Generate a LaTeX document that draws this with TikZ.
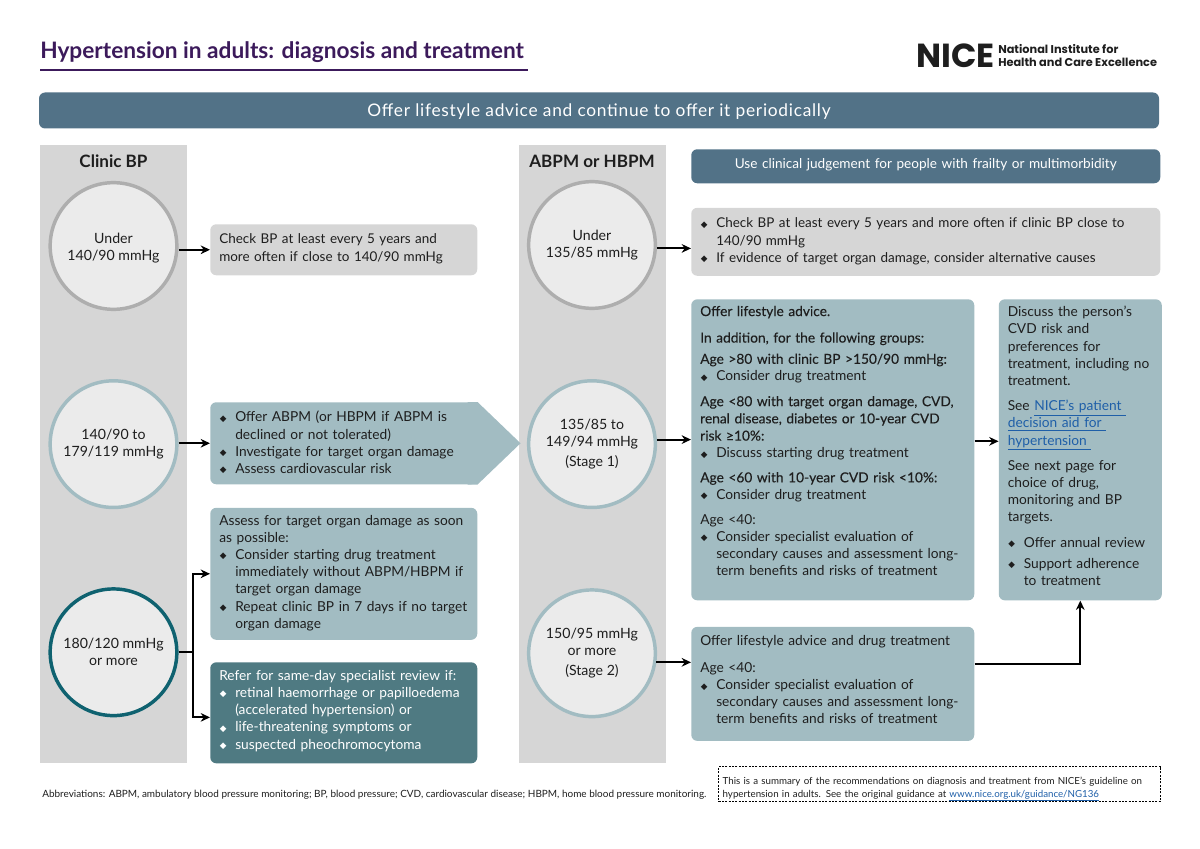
\documentclass[tikz,border=0pt]{standalone}
\usepackage{fontspec}
\setmainfont{Lato}
\newfontfamily\medfont{Lato}[FakeBold=0.2]
\newfontfamily\symfont{DejaVu Sans}
\newfontfamily\logofont{Poppins}
\usetikzlibrary{arrows.meta,positioning,calc}
\definecolor{titlecol}{HTML}{3C1A5B}
\definecolor{bannercol}{HTML}{527287}
\definecolor{graycol}{HTML}{D6D6D6}
\definecolor{pale}{HTML}{A2BCC2}
\definecolor{deep}{HTML}{4F7A82}
\definecolor{disc}{HTML}{EBEBEB}
\definecolor{ringgray}{HTML}{AEAEAE}
\definecolor{ringdeep}{HTML}{0F6270}
\definecolor{inkcol}{HTML}{1E1E1E}
\definecolor{linkcol}{HTML}{1F5FA8}
\newcommand{\bul}[1]{\par\noindent\hangindent=12pt\hangafter=1\makebox[12pt][l]{\hspace{0.5pt}\raisebox{.4pt}{\symfont\fontsize{6.5}{6.5}\selectfont ◆}}#1\par}
\newcommand{\gap}[1]{\par\vspace{#1pt}}
\newcommand{\linktxt}[1]{{\color{linkcol}\underline{#1}}}
\begin{document}
\begin{tikzpicture}[x=0.75pt,y=-0.75pt,
        box/.style={fill=#1, rounded corners=4.5pt, inner xsep=6.75pt, inner ysep=0pt, align=left, text=inkcol, font=\fontsize{10.3}{12.9}\selectfont, text width=186.75pt},
        box/.default=pale,
        disk/.style={circle, draw=#1, fill=disc, line width=2.6pt, minimum size=95pt, inner sep=0pt, align=center, text=inkcol, font=\fontsize{10.6}{12.75}\selectfont},
        column/.style={fill=graycol, minimum width=110pt, minimum height=463.5pt, inner sep=0pt},
        colhead/.style={font=\fontsize{12.8}{14}\bfseries, text=inkcol, inner sep=0pt},
        arr/.style={-{Stealth[length=7pt,width=6.5pt]}, line width=1.5pt, color=black}
      ]
        \useasboundingbox (0,0) rectangle (1200,849);
        % header
        \node[anchor=base west, inner sep=0pt, text=titlecol, font=\fontsize{17}{20}\bfseries] (title) at (40,59) {Hypertension in adults: diagnosis and treatment};
        \draw[titlecol, line width=1.5pt] (40,70) -- (528,70);
        \node[anchor=base west, inner sep=0pt, font=\logofont\fontsize{25}{25}\bfseries, text=inkcol] (nice) at (916,68) {NICE};
        \node[anchor=west, inner sep=0pt, align=left, font=\logofont\fontsize{8.5}{9.75}\bfseries, text=inkcol] (nicetxt) at (998,56) {National Institute for\\Health and Care Excellence};
        \node[fill=bannercol, rounded corners=4.5pt, minimum width=840pt, minimum height=27pt, inner sep=0pt, text=white, text height=11.5pt, text depth=2.6pt, font=\fontsize{13}{15}\selectfont\addfontfeature{LetterSpace=4.2}] (banner) at (599,110.5) {Offer lifestyle advice and continue to offer it periodically};
        % grey columns
        \node[column, anchor=north west] (clinic) at (40,145) {};
        \node[column, anchor=north west] (abpm) at (519,145) {};
        \node[colhead] (clinichead) at (113.5,161) {Clinic BP};
        \node[colhead] (abpmhead) at (592,161) {ABPM or HBPM};
        % clinic readings
        \node[disk=ringgray] (c1) at (113.5,246) {\rule{0pt}{11pt}Under\\140/90 mmHg};
        \node[disk=pale, below=51pt of c1] (c2) {140/90 to\\179/119 mmHg};
        \node[disk=ringdeep, below=58.5pt of c2] (c3) {180/120 mmHg\\or more};
        % clinic actions
        \node[box=graycol, anchor=north west, minimum height=38.25pt, font=\fontsize{10.1}{12.9}\selectfont] (b1) at (210,224) {Check BP at least every 5 years and\\more often if close to 140/90 mmHg\gap{1.5}};
        \node[box, anchor=north west, minimum height=61.5pt] (b2) at (210,402) {\bul{Offer ABPM (or HBPM if ABPM is\newline declined or not tolerated)}\bul{Investigate for target organ damage}\bul{Assess cardiovascular risk}\gap{6}};
        \coordinate (b2tip) at ($(b2.east)+(43,0)$);
        \fill[pale] ($(b2.north east)+(-10,0)$) -- (b2.north east) -- (b2tip) -- (b2.south east) -- ($(b2.south east)+(-10,0)$) -- cycle;
        \node[box, below=17.25pt of b2, minimum height=99pt] (b3) {Assess for target organ damage as soon\\as possible:\bul{Consider starting drug treatment\newline immediately without ABPM/HBPM if\newline target organ damage}\bul{\mbox{Repeat clinic BP in 7 days if no target}\newline organ damage}\gap{1.5}};
        \node[box=deep, below=16.5pt of b3, minimum height=75.75pt, text=white] (b4) {Refer for same-day specialist review if:\bul{retinal haemorrhage or papilloedema\newline (accelerated hypertension) or}\bul{life-threatening symptoms or}\bul{suspected pheochromocytoma}\gap{3}};
        % ABPM readings
        \node[disk=ringgray] (r1) at (592,245) {Under\\135/85 mmHg};
        \node[disk=pale, below=51.75pt of r1] (r2) {135/85 to\\149/94 mmHg\\[2pt](Stage 1)};
        \node[disk=pale, below=59.25pt of r2] (r3) {150/95 mmHg\\or more\\[2pt](Stage 2)};
        % ABPM actions
        \node[box=bannercol, anchor=north west, text width=351.75pt, inner xsep=0pt, minimum height=25.5pt, align=center, text=white, text depth=4.5pt, font=\fontsize{10.2}{12.75}\selectfont] (note) at (691,149) {Use clinical judgement for people with frailty or multimorbidity};
        \node[box=graycol, below=18pt of note.south west, anchor=north west, text width=338.25pt, minimum height=51pt, font=\fontsize{10.1}{12.9}\selectfont] (rb1) {\bul{Check BP at least every 5 years and more often if clinic BP close to\newline 140/90 mmHg}\bul{If evidence of target organ damage, consider alternative causes}\gap{6}};
        \node[box, below=17.25pt of rb1.south west, anchor=north west, text width=198.75pt, minimum height=225.75pt] (rb2) {{\medfont Offer lifestyle advice.}\gap{7}{\medfont In addition, for the following groups:}\gap{3}{\medfont Age >80 with clinic BP >150/90 mmHg:}\bul{Consider drug treatment}\gap{6}{\medfont Age <80 with target organ damage, CVD,\\renal disease, diabetes or 10-year CVD\\risk ≥10\%:}\bul{Discuss starting drug treatment}\gap{5.5}{\medfont Age <60 with 10-year CVD risk <10\%:}\bul{Consider drug treatment}\gap{5.5}Age <40:\bul{Consider specialist evaluation of\newline secondary causes and assessment long-\newline term benefits and risks of treatment}\gap{13.5}};
        \node[box, below=19.5pt of rb2, text width=198.75pt, minimum height=85.5pt] (rb3) {Offer lifestyle advice and drug treatment\gap{7}Age <40:\bul{Consider specialist evaluation of\newline secondary causes and assessment long-\newline term benefits and risks of treatment}\gap{6}};
        \node[box, right=18pt of rb2, text width=108.75pt, minimum height=225.75pt] (rd) {Discuss the person's\\CVD risk and\\preferences for\\\mbox{treatment, including no}\\treatment.\gap{6}See \linktxt{NICE's patient\ }\\\linktxt{decision aid for\ }\\\linktxt{hypertension\ }\gap{6}See next page for\\choice of drug,\\monitoring and BP\\targets.\gap{6}\bul{Offer annual review}\gap{3}\bul{Support adherence\newline to treatment}\gap{6}};
        % footer
        \node[anchor=west, inner sep=0pt, text=inkcol, font=\fontsize{7.48}{9}\selectfont] (abbrev) at (42,795) {Abbreviations: ABPM, ambulatory blood pressure monitoring; BP, blood pressure; CVD, cardiovascular disease; HBPM, home blood pressure monitoring.};
        \node[draw=black, dash pattern=on 1.5pt off 1pt, line width=1pt, anchor=north west, minimum width=331.5pt, minimum height=25.5pt, inner xsep=3pt, inner ysep=0pt, text width=325.5pt, align=left, text=inkcol, text height=13pt, font=\fontsize{7.3}{9.75}\selectfont] (summary) at (718,766) {This is a summary of the recommendations on diagnosis and treatment from NICE's guideline on\\hypertension in adults. See the original guidance at \linktxt{www.nice.org.uk/guidance/NG136}};
        % connectors
        \draw[arr] (b1.west -| c1.east) -- (b1.west);
        \draw[arr] (b2.west -| c2.east) -- (b2.west);
        \draw[arr] (c3.east) -- ++(14,0) |- (b3.west);
        \draw[arr] (c3.east) -- ++(14,0) |- ([yshift=-3.4pt]b4.west);
        \draw[arr] (r1.-3) -- (r1.-3 -| rb1.west);
        \draw[arr] (r2.4) -- (r2.4 -| rb2.west);
        \draw[arr] (r3.-8) -- (r3.-8 -| rb3.west);
        \draw[arr] ([yshift=6.4pt]rb2.east) -- ([yshift=6.4pt]rd.west);
        \draw[arr] ([yshift=15pt]rb3.east) -| (rd.south);
      \end{tikzpicture}
\end{document}
